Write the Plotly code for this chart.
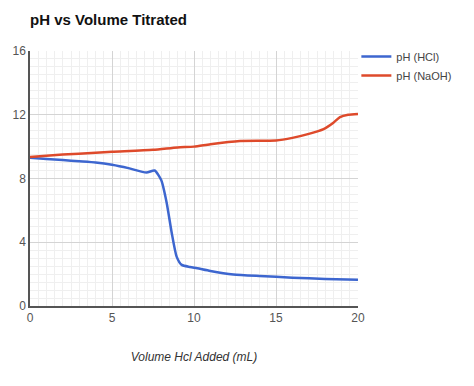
import plotly.graph_objects as go

hcl_x = [0, 1, 2, 3, 4, 5, 6, 7.1, 7.6, 8.0, 8.33, 8.64, 8.94, 9.25, 9.76, 10.2, 11, 12.4, 14, 16, 18, 20]
hcl_y = [9.3, 9.23, 9.16, 9.08, 9.0, 8.86, 8.65, 8.37, 8.5, 7.9, 6.5, 4.6, 3.1, 2.58, 2.45, 2.37, 2.2, 1.98, 1.88, 1.78, 1.7, 1.64]

naoh_x = [0, 2, 4, 5, 7.5, 9, 10, 11, 12.8, 15, 16, 17, 17.9, 18.5, 18.9, 19.4, 20]
naoh_y = [9.35, 9.5, 9.62, 9.68, 9.8, 9.95, 10.0, 10.15, 10.35, 10.38, 10.55, 10.8, 11.1, 11.5, 11.85, 12.0, 12.05]

x_ticks = [0, 5, 10, 15, 20]
y_ticks = [0, 4, 8, 12, 16]

W, H = 466, 378

fig = go.Figure()
fig.add_trace(go.Scatter(x=hcl_x, y=hcl_y, mode="lines", name="pH (HCl)",
                         line=dict(color="#3d66cf", width=2.5, shape="spline", smoothing=0.6)))
fig.add_trace(go.Scatter(x=naoh_x, y=naoh_y, mode="lines", name="pH (NaOH)",
                         line=dict(color="#de4a2b", width=2.5, shape="spline", smoothing=0.6)))

fig.update_layout(
    width=W, height=H,
    margin=dict(l=22, r=116, t=43, b=80),
    paper_bgcolor="white", plot_bgcolor="white",
    font=dict(family="Arial, Liberation Sans", color="#555", size=12),
    title=dict(text="<b>pH vs Volume Titrated</b>", x=22/W, xanchor="left",
               y=1-12/H, yanchor="middle",
               font=dict(size=15, color="#111", family="Arial, Liberation Sans")),
    showlegend=True,
    legend=dict(x=0.995, xanchor="left", y=1.035, yanchor="top",
                font=dict(size=11, color="#444"), tracegroupgap=0,
                bgcolor="rgba(0,0,0,0)"),
    xaxis=dict(range=[0, 20], tickvals=x_ticks, ticktext=[str(v) for v in x_ticks],
               showgrid=True, gridcolor="#d4d4d4", gridwidth=1,
               minor=dict(dtick=0.5, showgrid=True, gridcolor="#efefef", gridwidth=1),
               showline=True, linecolor="#555", linewidth=1.5, zeroline=False,
               ticks="", tickfont=dict(size=12, color="#555"), automargin=False,
               title=dict(text="<i>Volume Hcl Added (mL)</i>", font=dict(size=12, color="#333"),
                          standoff=28)),
    yaxis=dict(range=[0, 16], tickvals=y_ticks, ticktext=[str(v) for v in y_ticks],
               showgrid=True, gridcolor="#d4d4d4", gridwidth=1,
               minor=dict(dtick=0.5, showgrid=True, gridcolor="#efefef", gridwidth=1),
               showline=True, linecolor="#555", linewidth=1.5, zeroline=False,
               ticks="", tickfont=dict(size=12, color="#555"), automargin=False),
)

fig.write_html("out.html")
